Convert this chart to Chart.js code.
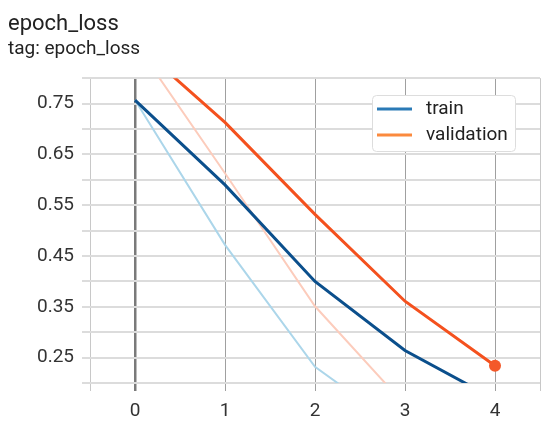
<!DOCTYPE html>
<html>
<head>
<meta charset="utf-8">
<script src="https://cdn.jsdelivr.net/npm/chart.js@4.4.1/dist/chart.umd.min.js"></script>
<style>
  html, body { margin: 0; padding: 0; background: #fff; }
  #wrap { width: 550px; height: 422px; }
</style>
</head>
<body>
<div id="wrap"><canvas id="lossChart"></canvas></div>
<script>
// epochs on the x axis
const epochs = [0, 1, 2, 3, 4];
// smoothed curves (dark) and raw curves (faded)
const trainSmoothed = [0.757, 0.59, 0.40, 0.264, 0.168];
const trainRaw = [0.757, 0.472, 0.232, 0.104, 0.07];
const validSmoothed = [0.87, 0.713, 0.532, 0.361, 0.234];
const validRaw = [0.87, 0.613, 0.351, 0.157, 0.13];
const seriesNames = ['train', 'validation'];
const xTickLabels = ['0', '1', '2', '3', '4'];
const yTickLabels = ['0.25', '0.35', '0.45', '0.55', '0.65', '0.75'];

const toPoints = vals => epochs.map((e, i) => ({ x: e, y: vals[i] }));

Chart.defaults.font.family = 'Roboto, "Noto Sans", sans-serif';
Chart.defaults.color = '#333';

// legend drawn inside the plot, top right
const insideLegend = {
  id: 'insideLegend',
  afterDraw(chart) {
    const ctx = chart.ctx;
    const colors = ['#2a7ab6', '#fb8a3e'];
    const x = 372, y = 95, w = 143, h = 56;
    ctx.save();
    ctx.fillStyle = '#fff';
    ctx.strokeStyle = '#ddd';
    ctx.lineWidth = 1;
    ctx.beginPath();
    ctx.roundRect(x + 0.5, y + 0.5, w, h, 4);
    ctx.fill();
    ctx.stroke();
    ctx.font = '19px Roboto';
    ctx.textBaseline = 'middle';
    seriesNames.forEach((name, i) => {
      const ly = 109 + i * 26;
      ctx.strokeStyle = colors[i];
      ctx.lineWidth = 3;
      ctx.beginPath();
      ctx.moveTo(377, ly);
      ctx.lineTo(412, ly);
      ctx.stroke();
      ctx.fillStyle = '#222';
      ctx.fillText(name, 426, ly);
    });
    ctx.restore();
  }
};

new Chart(document.getElementById('lossChart'), {
  type: 'line',
  data: {
    datasets: [
      {
        label: seriesNames[0],
        data: toPoints(trainSmoothed),
        borderColor: '#0b4f8c',
        borderWidth: 3,
        pointRadius: 0,
        clip: 0
      },
      {
        label: seriesNames[1],
        data: toPoints(validSmoothed),
        borderColor: '#f4511e',
        backgroundColor: '#f4592a',
        borderWidth: 3,
        pointRadius: ctx => ctx.dataIndex === epochs.length - 1 ? 6 : 0,
        pointBorderWidth: 0,
        clip: 0
      },
      {
        label: seriesNames[0] + ' raw',
        data: toPoints(trainRaw),
        borderColor: '#acd6ea',
        borderWidth: 2,
        pointRadius: 0,
        clip: 0
      },
      {
        label: seriesNames[1] + ' raw',
        data: toPoints(validRaw),
        borderColor: '#fcccbc',
        borderWidth: 2,
        pointRadius: 0,
        clip: 0
      }
    ]
  },
  options: {
    responsive: true,
    maintainAspectRatio: false,
    animation: false,
    layout: { padding: { left: 8, right: 10 } },
    plugins: {
      legend: { display: false },
      tooltip: { enabled: false },
      title: {
        display: true,
        text: 'epoch_loss',
        align: 'start',
        color: '#222',
        font: { size: 22, weight: 'normal' },
        padding: { top: 11, bottom: 0 }
      },
      subtitle: {
        display: true,
        text: 'tag: epoch_loss',
        align: 'start',
        color: '#222',
        font: { size: 19 },
        padding: { top: 0, bottom: 18 }
      }
    },
    scales: {
      x: {
        type: 'linear',
        min: -0.5,
        max: 4.5,
        border: { display: false },
        ticks: {
          stepSize: 0.5,
          autoSkip: false,
          padding: 9,
          color: '#333',
          font: { size: 19 },
          maxRotation: 0,
          callback: v => {
            const i = xTickLabels.indexOf(String(v));
            return i >= 0 ? xTickLabels[i] : '';
          }
        },
        grid: {
          tickLength: 8,
          color: ctx => {
            const v = ctx.tick.value;
            if (v === 0) return '#7a7a7a';
            if (Number.isInteger(v)) return '#a0a0a0';
            if (v === -0.5 || v === 4.5) return '#c8c8c8';
            return 'rgba(0,0,0,0)';
          },
          lineWidth: ctx => ctx.tick.value === 0 ? 2.5 : 1
        },
        afterFit: s => { s.height = 39; }
      },
      y: {
        min: 0.2,
        max: 0.8,
        border: { display: false },
        ticks: {
          stepSize: 0.05,
          autoSkip: false,
          padding: 8,
          color: '#333',
          font: { size: 19 },
          callback: v => {
            const s = (Math.round(v * 100) / 100).toFixed(2);
            return yTickLabels.includes(s) ? s : '';
          }
        },
        grid: {
          tickLength: 8,
          color: '#dcdcdc',
          lineWidth: 2
        },
        afterFit: s => { s.width = 82; }
      }
    }
  },
  plugins: [insideLegend]
});
</script>
</body>
</html>
